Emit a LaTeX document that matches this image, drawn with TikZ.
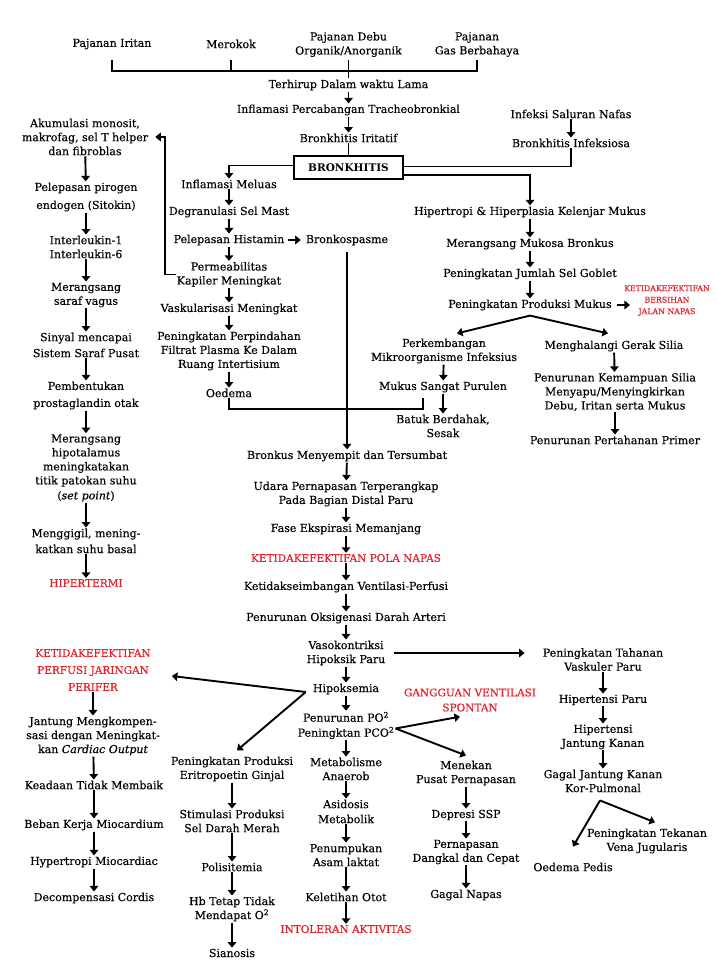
\documentclass[tikz,border=0pt]{standalone}
\usepackage{fontspec}
\setmainfont{DejaVu Serif}
\usetikzlibrary{arrows.meta,calc}
\definecolor{dxred}{RGB}{232,32,42}
\begin{document}
\begin{tikzpicture}[x=1pt,y=-1pt,
  txt/.style={align=center, inner sep=1pt, font=\fontsize{11}{14}\selectfont\addfontfeature{FakeBold=0.3}},
  redt/.style={align=center, inner sep=1pt, text=dxred, font=\fontsize{10.5}{15}\selectfont\addfontfeature{FakeBold=0.6}},
  smallred/.style={align=center, inner sep=1pt, text=dxred, font=\fontsize{7.8}{11.5}\selectfont\addfontfeature{FakeBold=0.5}},
  mainbox/.style={draw, line width=1.3pt, minimum width=109pt, minimum height=23pt, inner sep=0pt, font=\bfseries\fontsize{10.5}{12}\selectfont},
  conn/.style={line width=1.9pt, line join=miter},
  arr/.style={conn, -{Triangle[width=8.5pt,length=5.5pt]}},
]
\fill[white] (0,0) rectangle (716,968);
\useasboundingbox (0,0) rectangle (716,968);

% ---------- top ----------
\node[txt] (pi) at (112,44) {Pajanan Iritan};
\node[txt] (mk) at (231,44) {Merokok};
\node[txt] (pd) at (348.5,44.5) {Pajanan Debu\\Organik/Anorganik};
\node[txt] (pg) at (477,44.5) {Pajanan\\Gas Berbahaya};
\coordinate (tt) at (0,60);
\coordinate (bar) at (0,71);
\node[txt] (th) at (348.5,85) {Terhirup Dalam waktu Lama};
\node[txt] (ipt) at (348.5,110) {Inflamasi Percabangan Tracheobronkial};
\node[txt] (bi) at (348.5,138) {Bronkhitis Iritatif};
\node[mainbox] (box) at (348.5,167.5) {BRONKHITIS};
\node[txt] (isn) at (571,114) {Infeksi Saluran Nafas};
\node[txt] (binf) at (571,143) {Bronkhitis Infeksiosa};

\draw[conn] (pi |- tt) -- (pi |- bar) -- (pg |- bar) -- (pg |- tt);
\draw[conn] (mk |- tt) -- (mk |- bar);
\draw[conn] (pd |- tt) -- (th.north);
\draw[arr] (th) -- (ipt);
\draw[arr] (ipt) -- (bi);
\draw[conn] (bi) -- (box);
\draw[arr] (isn) -- (binf);
\draw[conn] (binf.south) |- ([yshift=1pt]box.east);

% ---------- middle-left column ----------
\node[txt] (im) at (229,184) {Inflamasi Meluas};
\node[txt] (dg) at (229,212) {Degranulasi Sel Mast};
\node[txt] (ph) at (229,240) {Pelepasan Histamin};
\node[txt] (bsp) at (347,240) {Bronkospasme};
\node[txt] (perm) at (229,274.5) {Permeabilitas\\Kapiler Meningkat};
\node[txt] (vask) at (229,309) {Vaskularisasi Meningkat};
\node[txt] (ppf) at (229,351) {Peningkatan Perpindahan\\Filtrat Plasma Ke Dalam\\Ruang Intertisium};
\node[txt] (oed) at (229,393) {Oedema};

\draw[arr] ([yshift=2pt]box.west) -| (im.north);
\draw[arr] (im) -- (dg);
\draw[arr] (dg) -- (ph);
\draw[arr, shorten <=2pt, shorten >=4pt] (ph) -- (bsp);
\draw[arr] (ph) -- (perm);
\draw[arr] (perm) -- (vask);
\draw[arr] (vask) -- (ppf);
\draw[arr] (ppf) -- (oed);

% ---------- far-left column ----------
\node[txt] (akm) at (85,137) {Akumulasi monosit,\\makrofag, sel T helper\\dan fibroblas};
\node[txt] (ppe) at (86,197) {Pelepasan pirogen\\[4pt]endogen (Sitokin)};
\node[txt] (il) at (86,247) {Interleukin-1\\Interleukin-6};
\node[txt] (msv) at (86,295) {Merangsang\\saraf vagus};
\node[txt] (smsp) at (86,345) {Sinyal mencapai\\[2pt]Sistem Saraf Pusat};
\node[txt] (pbp) at (86,395.5) {Pembentukan\\[3pt]prostaglandin otak};
\node[txt] (mhm) at (86,468) {Merangsang\\hipotalamus\\meningkatakan\\titik patokan suhu\\[1pt](\textit{set point})};
\node[txt] (mgg) at (86,541) {Menggigil, mening-\\[2pt]katkan suhu basal};
\node[redt] (hiper) at (86,583) {HIPERTERMI};

\draw[arr] (perm.west) -- ++(-11,0) |- ([xshift=6pt]akm.east);
\draw[arr] (akm) -- (ppe);
\draw[arr] (ppe) -- (il);
\draw[arr] (il) -- (msv);
\draw[arr] (msv) -- (smsp);
\draw[arr] (smsp) -- (pbp);
\draw[arr] (pbp) -- (mhm);
\draw[arr] (mhm) -- (mgg);
\draw[arr] (mgg) -- (hiper);

% ---------- right column (mukus) ----------
\node[txt] (hip) at (530,212) {Hipertropi \& Hiperplasia Kelenjar Mukus};
\node[txt] (mmb) at (530,244) {Merangsang Mukosa Bronkus};
\node[txt] (pjsg) at (530,274) {Peningkatan Jumlah Sel Goblet};
\node[txt] (ppm) at (530,305) {Peningkatan Produksi Mukus};
\node[smallred] (kbj) at (667,300.5) {KETIDAKEFEKTIFAN\\BERSIHAN\\JALAN NAPAS};
\node[txt] (pmi) at (444,351) {Perkembangan\\Mikroorganisme Infeksius};
\node[txt] (msp) at (443,387) {Mukus Sangat Purulen};
\node[txt] (bb) at (443,426) {Batuk Berdahak,\\Sesak};
\node[txt] (mgs) at (614,346) {Menghalangi Gerak Silia};
\node[txt] (pkms) at (615,392) {Penurunan Kemampuan Silia\\Menyapu/Menyingkirkan\\Debu, Iritan serta Mukus};
\node[txt] (ppp) at (615,440) {Penurunan Pertahanan Primer};

\draw[arr] ([yshift=-7.5pt]box.east) -| (hip.north);
\draw[arr] (hip) -- (mmb);
\draw[arr] (mmb) -- (pjsg);
\draw[arr] (pjsg) -- (ppm);
\draw[arr, shorten <=4pt, shorten >=-7pt] (ppm.east) -- (ppm.east -| kbj.west);
\draw[arr] ([yshift=-4pt]ppm.south) -- ([xshift=13pt,yshift=4pt]pmi.north);
\draw[arr] ([yshift=-4pt]ppm.south) -- ([xshift=-6pt,yshift=6pt]mgs.north);
\draw[arr] (pmi) -- (msp);
\draw[arr] (msp) -- (bb);
\draw[arr] (mgs) -- (pkms);
\draw[arr] (pkms) -- (ppp);

% ---------- central trunk ----------
\node[txt] (bms) at (347,456) {Bronkus Menyempit dan Tersumbat};
\node[txt] (udara) at (346,494) {Udara Pernapasan Terperangkap\\Pada Bagian Distal Paru};
\node[txt] (fase) at (346,529) {Fase Ekspirasi Memanjang};
\node[redt] (kpn) at (346,558) {KETIDAKEFEKTIFAN POLA NAPAS};
\node[txt] (kvp) at (346,587) {Ketidakseimbangan Ventilasi-Perfusi};
\node[txt] (poda) at (346,618) {Penurunan Oksigenasi Darah Arteri};
\node[txt] (vaso) at (346,653) {Vasokontriksi\\Hipoksik Paru};
\node[txt] (hipox) at (346,689) {Hipoksemia};
\node[txt] (pp) at (346,725.5) {Penurunan PO\textsuperscript{2}\\[1pt]Peningktan PCO\textsuperscript{2}};
\node[txt] (meta) at (346,769) {Metabolisme\\Anaerob};
\node[txt] (asid) at (346,811.5) {Asidosis\\[1pt]Metabolik};
\node[txt] (penum) at (346,855) {Penumpukan\\Asam laktat};
\node[txt] (kelet) at (346,897) {Keletihan Otot};
\node[redt] (intol) at (346,929) {INTOLERAN AKTIVITAS};

\coordinate (mj) at (423,409);
\draw[arr, shorten <=5pt] (bsp.south) -- (bms.north);
\draw[conn, shorten >=4pt] (oed.south) |- (mj) -- (mj |- msp.south);
\draw[arr] (bms) -- (udara);
\draw[arr] (udara) -- (fase);
\draw[arr] (fase) -- (kpn);
\draw[arr] (kpn) -- (kvp);
\draw[arr] (kvp) -- (poda);
\draw[arr] (poda) -- (vaso);
\draw[arr] (vaso) -- (hipox);
\draw[arr] (hipox) -- (pp);
\draw[arr] (pp) -- (meta);
\draw[arr] (meta) -- (asid);
\draw[arr] (asid) -- (penum);
\draw[arr] (penum) -- (kelet);
\draw[arr] (kelet) -- (intol);

% ---------- lower left ----------
\node[redt] (perf) at (93,670) {KETIDAKEFEKTIFAN\\[2pt]PERFUSI JARINGAN\\[2pt]PERIFER};
\node[txt] (jmk) at (93,736) {Jantung Mengkompen-\\sasi dengan Meningkat-\\kan \textit{Cardiac Output}};
\node[txt] (kad) at (94,785) {Keadaan Tidak Membaik};
\node[txt] (beban) at (94,825) {Beban Kerja Miocardium};
\node[txt] (hypm) at (94,862) {Hypertropi Miocardiac};
\node[txt] (decomp) at (94,898) {Decompensasi Cordis};

\draw[arr] ([xshift=-6pt,yshift=-3pt]hipox.west) -- ([xshift=20pt,yshift=-6pt]perf.east);
\draw[arr] (perf) -- (jmk);
\draw[arr] (jmk) -- (kad);
\draw[arr] (kad) -- (beban);
\draw[arr] (beban) -- (hypm);
\draw[arr] (hypm) -- (decomp);

% ---------- eritropoetin ----------
\node[txt] (epo) at (232,769) {Peningkatan Produksi\\Eritropoetin Ginjal};
\node[txt] (stim) at (232,821) {Stimulasi Produksi\\Sel Darah Merah};
\node[txt] (poli) at (232,867) {Polisitemia};
\node[txt] (hb) at (232,909) {Hb Tetap Tidak\\Mendapat O\textsuperscript{2}};
\node[txt] (sian) at (232,953) {Sianosis};

\draw[arr] ([xshift=-6pt,yshift=-3pt]hipox.west) -- ([xshift=5pt,yshift=5pt]epo.north);
\draw[arr] (epo) -- (stim);
\draw[arr] (stim) -- (poli);
\draw[arr] (poli) -- (hb);
\draw[arr] (hb) -- (sian);

% ---------- ventilasi ----------
\node[redt] (gvs) at (470,700) {GANGGUAN VENTILASI\\SPONTAN};
\node[txt] (menekan) at (466,773) {Menekan\\Pusat Pernapasan};
\node[txt] (dssp) at (466,815) {Depresi SSP};
\node[txt] (pdc) at (466,852) {Pernapasan\\Dangkal dan Cepat};
\node[txt] (gn) at (466,895) {Gagal Napas};

\draw[arr] ([yshift=-3pt]pp.east) -- ([xshift=-10pt,yshift=-4pt]gvs.south);
\draw[arr] ([yshift=-3pt]pp.east) -- ([yshift=4pt]menekan.north);
\draw[arr] (menekan) -- (dssp);
\draw[arr] (dssp) -- (pdc);
\draw[arr] (pdc) -- (gn);

% ---------- right lower ----------
\node[txt] (pth) at (603,659.5) {Peningkatan Tahanan\\Vaskuler Paru};
\node[txt] (hp) at (603,700) {Hipertensi Paru};
\node[txt] (hjk) at (603,737) {Hipertensi\\Jantung Kanan};
\node[txt] (gjk) at (603,781) {Gagal Jantung Kanan\\Kor-Pulmonal};
\node[txt] (ptvj) at (647,841) {Peningkatan Tekanan\\Vena Jugularis};
\node[txt] (ope) at (573,867) {Oedema Pedis};

\draw[arr, shorten <=8pt, shorten >=17pt] (vaso.east) -- (vaso.east -| pth.west);
\draw[arr] (pth) -- (hp);
\draw[arr] (hp) -- (hjk);
\draw[arr] (hjk) -- (gjk);
\draw[arr] ([xshift=-3pt,yshift=-7pt]gjk.south) -- ([yshift=15pt]ope.north);
\draw[arr] ([xshift=-3pt,yshift=-7pt]gjk.south) -- ([xshift=8pt,yshift=5pt]ptvj.north);
\end{tikzpicture}
\end{document}
